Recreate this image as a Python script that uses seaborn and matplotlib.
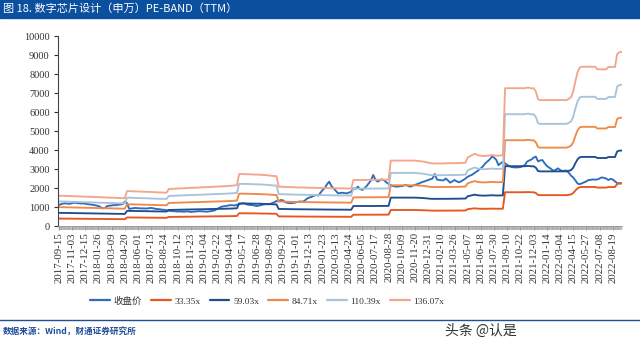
import numpy as np
import pandas as pd
import matplotlib
matplotlib.use("Agg")
import matplotlib.pyplot as plt
import seaborn as sns

# ---------------- data ----------------
tick_labels = [
    "2017-09-15", "2017-11-03", "2017-12-15", "2018-01-26", "2018-03-09", "2018-04-20",
    "2018-06-01", "2018-07-13", "2018-08-24", "2018-10-12", "2018-11-23", "2019-01-04",
    "2019-02-22", "2019-04-04", "2019-05-17", "2019-06-28", "2019-08-09", "2019-09-20",
    "2019-11-01", "2019-12-13", "2020-01-23", "2020-03-13", "2020-04-24", "2020-06-05",
    "2020-07-17", "2020-08-28", "2020-10-09", "2020-11-20", "2020-12-31", "2021-02-10",
    "2021-03-26", "2021-05-07", "2021-06-18", "2021-07-30", "2021-09-10", "2021-10-22",
    "2021-12-03", "2022-01-14", "2022-03-04", "2022-04-15", "2022-05-27", "2022-07-08",
    "2022-08-19",
]
tick_step_days = 30      # trading days between labelled ticks
sample_step_days = 5     # trading days between data points (weekly)

# weekly closing price of the index
close_price = [
    1105, 1150, 1180, 1193, 1175, 1170, 1200, 1228, 1210, 1200,
    1185, 1190, 1170, 1150, 1140, 1125, 1105, 1080, 1050, 990,
    930, 950, 1050, 1070, 1080, 1100, 1095, 1120, 1130, 1150,
    1280, 1200, 900, 920, 940, 950, 935, 930, 925, 915,
    920, 940, 950, 930, 900, 890, 880, 860, 850, 830,
    800, 790, 780, 770, 760, 765, 755, 750, 770, 760,
    740, 750, 760, 770, 780, 770, 760, 755, 760, 780,
    800, 830, 900, 960, 1017, 1040, 1050, 1080, 1100, 1090,
    1080, 1120, 1150, 1180, 1200, 1160, 1120, 1110, 1100, 1080,
    1050, 1070, 1100, 1130, 1150, 1140, 1160, 1200, 1250, 1316,
    1300, 1370, 1350, 1250, 1220, 1200, 1210, 1220, 1250, 1280,
    1290, 1280, 1350, 1450, 1500, 1540, 1590, 1630, 1600, 1750,
    1895, 2000, 2200, 2333, 2100, 1980, 1850, 1720, 1740, 1750,
    1730, 1720, 1760, 1800, 1980, 1950, 2070, 1950, 1900, 1980,
    2100, 2250, 2400, 2684, 2450, 2333, 2400, 2456, 2400, 2300,
    2210, 2150, 2100, 2080, 2070, 2090, 2100, 2130, 2160, 2100,
    2070, 2120, 2160, 2200, 2245, 2300, 2333, 2380, 2420, 2460,
    2500, 2737, 2450, 2420, 2410, 2400, 2500, 2400, 2280, 2350,
    2420, 2350, 2300, 2350, 2420, 2500, 2596, 2650, 2700, 2780,
    2860, 2950, 3035, 3150, 3298, 3400, 3500, 3650, 3600, 3480,
    3200, 3300, 3385, 3298, 3210, 3150, 3100, 3090, 3080, 3090,
    3100, 3150, 3200, 3385, 3450, 3500, 3600, 3650, 3400, 3450,
    3470, 3300, 3160, 3080, 3000, 2900, 2950, 3035, 2950, 2900,
    2910, 2920, 2800, 2650, 2550, 2400, 2230, 2200, 2250, 2300,
    2350, 2420, 2430, 2450, 2440, 2450, 2500, 2560, 2530, 2500,
    2420, 2480, 2450, 2350, 2260, 2240, 2250,
]

# weekly TTM EPS of the index (price / PE)
eps_ttm = [
    # 2017-09 .. 2018-04
    11.70, 11.70, 11.70, 11.65, 11.60, 11.60, 11.55, 11.50, 11.50, 11.45,
    11.40, 11.40, 11.35, 11.30, 11.30, 11.25, 11.20, 11.20, 11.15, 11.10,
    11.10, 11.05, 11.00, 11.00, 10.95, 10.90, 10.90, 10.85, 10.80, 10.80, 10.75,
    # 2018-05 .. 2018-08
    13.50, 13.50, 13.45, 13.40, 13.40, 13.35, 13.30, 13.30, 13.25, 13.20,
    13.20, 13.15, 13.10, 13.05, 13.00, 13.00, 12.95, 12.90, 12.90,
    # 2018-09 .. 2019-04
    14.30, 14.35, 14.40, 14.45, 14.50, 14.55, 14.55, 14.60, 14.65, 14.70,
    14.75, 14.80, 14.80, 14.85, 14.90, 14.95, 15.00, 15.05, 15.05, 15.10,
    15.15, 15.20, 15.25, 15.30, 15.30, 15.35, 15.40, 15.50, 15.55, 15.60,
    15.70, 15.80,
    # 2019-05 .. 2019-08
    20.10, 20.10, 20.10, 20.05, 20.00, 20.00, 19.95, 19.90, 19.90, 19.85,
    19.80, 19.75, 19.70, 19.60, 19.50, 19.40, 19.30, 19.30,
    # 2019-09 .. 2020-04
    15.20, 15.20, 15.15, 15.10, 15.10, 15.05, 15.00, 15.00, 14.95, 14.90,
    14.90, 14.90, 14.85, 14.85, 14.80, 14.80, 14.80, 14.75, 14.75, 14.70,
    14.70, 14.70, 14.65, 14.65, 14.60, 14.60, 14.60, 14.60, 14.55, 14.55,
    14.55, 14.50, 14.50, 14.50,
    # 2020-05 .. 2020-08
    17.80, 17.80, 17.80, 17.80, 17.80, 17.80, 17.85, 17.85, 17.85, 17.85,
    17.85, 17.90, 17.90, 17.90, 17.90, 17.90, 17.90,
    # 2020-09 .. 2021-01
    25.30, 25.30, 25.30, 25.30, 25.30, 25.30, 25.30, 25.30, 25.30, 25.30,
    25.30, 25.30, 25.20, 25.10, 25.00, 24.90, 24.70, 24.50, 24.30,
    # 2021-01 .. 2021-04
    24.20, 24.20, 24.20, 24.20, 24.20, 24.20, 24.25, 24.25, 24.30, 24.30,
    24.30, 24.35, 24.35, 24.40, 24.40, 24.50,
    # 2021-05 .. 2021-08
    26.50, 27.00, 27.40, 27.90, 27.60, 27.30, 27.20, 27.10, 27.10, 27.20,
    27.30, 27.40, 27.30, 27.20, 27.20, 27.30, 27.30,
    # 2021-09 .. 2021-11
    53.30, 53.30, 53.30, 53.30, 53.30, 53.30, 53.30, 53.30, 53.30, 53.30,
    53.50, 53.50, 53.20, 53.30, 52.00,
    # 2021-12 .. 2022-09
    49.00, 48.70, 48.70, 48.70, 48.70, 48.70, 48.70, 48.70, 48.70, 48.70,
    48.70, 48.70, 48.70, 48.70, 49.20, 49.80, 52.00, 56.00, 59.50, 61.30,
    61.60, 61.60, 61.60, 61.60, 61.60, 61.60, 61.60, 60.60, 60.60, 60.60,
    60.60, 60.60, 61.50, 61.50, 61.50, 61.50, 66.50, 67.20, 67.30,
]

pe_multiples = [33.35, 59.03, 84.71, 110.39, 136.07]
series_names = ["收盘价", "33.35x", "59.03x", "84.71x", "110.39x", "136.07x"]
series_colors = ["#2f6db8", "#e8561f", "#1f4e8f", "#f08a4b", "#a9c3da", "#f4a68c"]

title_text = "图 18. 数字芯片设计（申万）PE-BAND（TTM）"
source_text = "数据来源：Wind，财通证券研究所"
watermark_text = "头条 @认是"

# ---------------- build long table ----------------
n = len(close_price)
days = np.arange(n) * sample_step_days
frames = [pd.DataFrame({"day": days, "value": close_price, "series": series_names[0]})]
eps = np.array(eps_ttm)
for name, m in zip(series_names[1:], pe_multiples):
    frames.append(pd.DataFrame({"day": days, "value": eps * m, "series": name}))
df = pd.concat(frames, ignore_index=True)

# ---------------- figure ----------------
sns.set_theme(style="white")
plt.rcParams["font.family"] = ["Liberation Serif", "Noto Sans CJK SC", "DejaVu Sans"]

W, H = 640, 350
fig = plt.figure(figsize=(W / 100, H / 100), dpi=100)
ax = fig.add_axes([58 / W, (H - 226) / H, 564 / W, 190 / H])

sns.lineplot(data=df, x="day", y="value", hue="series", hue_order=series_names,
             palette=dict(zip(series_names, series_colors)), linewidth=1.35,
             ax=ax, legend=True, estimator=None, sort=False)

handles, labels = ax.get_legend_handles_labels()
if ax.get_legend() is not None:
    ax.get_legend().remove()

ax.set_xlim(-2, 1281)
ax.set_ylim(0, 10000)
ax.set_yticks(np.arange(0, 10001, 1000))
ax.set_xticks(np.arange(len(tick_labels)) * tick_step_days)
ax.set_xticklabels(tick_labels, rotation=90, fontsize=7.8, color="#333333")
ax.set_xticks(np.arange(0, 1281, 1), minor=True)
ax.tick_params(axis="y", labelsize=7.5, colors="#333333", length=3, width=0.8,
               direction="out", left=True, pad=3)
ax.tick_params(axis="x", which="major", length=3, width=0.5, color="#777777",
               direction="out", bottom=True, pad=1.5)
ax.tick_params(axis="x", which="minor", length=3, width=0.35, color="#999999",
               direction="out", bottom=True)
for lab in ax.get_yticklabels():
    lab.set_color("#333333")
ax.set_xlabel("")
ax.set_ylabel("")
for s in ["top", "right"]:
    ax.spines[s].set_visible(False)
ax.spines["left"].set_color("#444444")
ax.spines["left"].set_linewidth(0.8)
ax.spines["bottom"].set_color("#999999")
ax.spines["bottom"].set_linewidth(0.6)
ax.grid(False)

leg = fig.legend(handles, labels, loc="center left", bbox_to_anchor=(86 / W, 1 - 301 / H),
                 ncol=6, frameon=False, fontsize=6.8, handlelength=2.1,
                 handletextpad=0.4, columnspacing=0.95, borderaxespad=0)
for t in leg.get_texts():
    t.set_color("#333333")
for h in leg.get_lines():
    h.set_linewidth(1.6)

# title bar
fig.patches.append(plt.Rectangle((0, 1 - 18 / H), 1, 18 / H, transform=fig.transFigure,
                                 color="#0b4f9f", zorder=0))
fig.text(3 / W, 1 - 9 / H, title_text, color="white", fontsize=8.0,
         family=["Noto Sans CJK SC", "DejaVu Sans"], fontweight="medium",
         va="center", ha="left")

# separator and source
fig.add_artist(plt.Line2D([0, 1], [1 - 320 / H, 1 - 320 / H], transform=fig.transFigure,
                          color="#1f4e9a", linewidth=1.0))
fig.text(3 / W, 1 - 332 / H, source_text, color="#1f4e9a", fontsize=6.2,
         fontweight="bold", family=["Noto Sans CJK SC", "DejaVu Sans"],
         va="center", ha="left")
fig.text(445 / W, 1 - 331 / H, watermark_text, color="#333333", fontsize=10,
         family=["Noto Sans CJK SC", "DejaVu Sans"], va="center", ha="left")

fig.savefig("out.png", dpi=100)
